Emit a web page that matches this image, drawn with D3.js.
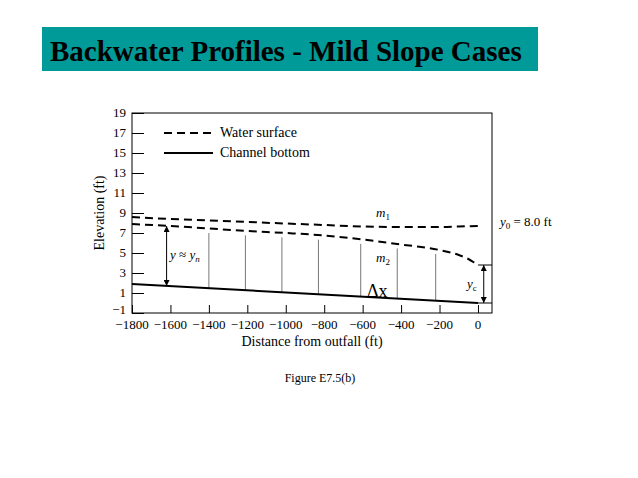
<!DOCTYPE html>
<html><head><meta charset="utf-8">
<script src="https://cdn.jsdelivr.net/npm/d3@7"></script>
<style>body{margin:0;background:#fff}</style></head>
<body><svg id="c" width="638" height="478"></svg>
<script>
const xTicks=[-1800,-1600,-1400,-1200,-1000,-800,-600,-400,-200,0];
const yTicks=[-1,1,3,5,7,9,11,13,15,17,19];
const bottomX=[-1800,0], bottomY=[1.9,0];
const m1X=[-1800,-1600,-1400,-1200,-1000,-800,-600,-400,-200,-100,0];
const m1Y=[8.6,8.4,8.25,8.1,7.95,7.8,7.65,7.6,7.6,7.65,7.7];
const m2X=[-1800,-1600,-1400,-1200,-1000,-800,-600,-400,-200,-100,-50,-20,0];
const m2Y=[7.9,7.7,7.45,7.2,7.0,6.75,6.35,5.85,5.3,4.8,4.4,4.05,3.8];
const stationX=[-1400,-1210,-1020,-830,-610,-420,-220];
const yc=3.8;

const svg=d3.select("#c"), F="Liberation Serif";
svg.append("rect").attr("x",42).attr("y",27).attr("width",496).attr("height",44).attr("fill","#009a98");
svg.append("text").attr("x",50).attr("y",61).attr("font-family",F).attr("font-weight","bold").attr("font-size",29).text("Backwater Profiles - Mild Slope Cases");

const x=d3.scaleLinear().domain([-1800,73]).range([132,492]);
const y=d3.scaleLinear().domain([-1,19]).range([313,113]);
const g=svg.append("g");
g.append("rect").attr("x",132).attr("y",113).attr("width",360).attr("height",200).attr("fill","none").attr("stroke","#000");
g.append("g").attr("transform","translate(132,0)").call(d3.axisRight(y).tickValues(yTicks).tickSize(12).tickFormat(""))
 .call(a=>a.select(".domain").remove());
g.append("g").attr("transform","translate(0,313)").call(d3.axisTop(x).tickValues(xTicks).tickSize(8).tickFormat(""))
 .call(a=>a.select(".domain").remove());
yTicks.forEach(v=>g.append("text").attr("x",126).attr("y",y(v)+(v<0?1:4)).attr("text-anchor","end").attr("font-family",F).attr("font-size",13).text(v<0?"\u2212"+(-v):v));
xTicks.forEach(v=>g.append("text").attr("x",x(v)).attr("y",329).attr("text-anchor","middle").attr("font-family",F).attr("font-size",13).text(v<0?"\u2212"+(-v):v));
g.append("text").attr("x",312).attr("y",346).attr("text-anchor","middle").attr("font-family",F).attr("font-size",14).text("Distance from outfall (ft)");
g.append("text").attr("transform","translate(104,213) rotate(-90)").attr("text-anchor","middle").attr("font-family",F).attr("font-size",14).text("Elevation (ft)");

const bInterp=d3.scaleLinear().domain(bottomX).range(bottomY);
const m2Interp=d3.scaleLinear().domain(m2X).range(m2Y);
stationX.forEach(s=>g.append("line").attr("x1",x(s)).attr("x2",x(s)).attr("y1",y(bInterp(s))).attr("y2",y(m2Interp(s)-0.45)).attr("stroke","#777").attr("stroke-width",1));

const line=d3.line().x(d=>x(d[0])).y(d=>y(d[1])).curve(d3.curveMonotoneX);
g.append("path").attr("d",line(bottomX.map((v,i)=>[v,bottomY[i]]))).attr("fill","none").attr("stroke","#000").attr("stroke-width",2);
g.append("path").attr("d",line(m1X.map((v,i)=>[v,m1Y[i]]))).attr("fill","none").attr("stroke","#000").attr("stroke-width",2).attr("stroke-dasharray","8,5");
g.append("path").attr("d",line(m2X.map((v,i)=>[v,m2Y[i]]))).attr("fill","none").attr("stroke","#000").attr("stroke-width",2).attr("stroke-dasharray","8,5");

const defs=svg.append("defs");
defs.append("marker").attr("id","ah").attr("viewBox","0 0 10 10").attr("refX",10).attr("refY",5).attr("markerWidth",6).attr("markerHeight",6).attr("orient","auto-start-reverse")
 .append("path").attr("d","M0,0L10,5L0,10z");
const arrow=(xx,y1,y2)=>g.append("line").attr("x1",x(xx)).attr("x2",x(xx)).attr("y1",y(y1)).attr("y2",y(y2)).attr("stroke","#000").attr("marker-start","url(#ah)").attr("marker-end","url(#ah)");
arrow(-1620,bInterp(-1620),7.7);
g.append("line").attr("x1",x(0)).attr("x2",x(73)).attr("y1",y(yc)).attr("y2",y(yc)).attr("stroke","#000");
g.append("line").attr("x1",x(0)).attr("x2",x(73)).attr("y1",y(0)).attr("y2",y(0)).attr("stroke","#000");
arrow(30,0,yc);

const it=(tx,ty,main,sub,size)=>{const t=g.append("text").attr("x",tx).attr("y",ty).attr("font-family",F).attr("font-size",size||13);
 t.append("tspan").attr("font-style","italic").text(main); if(sub) t.append("tspan").attr("font-size",9).attr("dy",3).text(sub); return t;};
it(376,217,"m","1");
it(376,262,"m","2");
it(467,288,"y","c");
const yn=g.append("text").attr("x",170).attr("y",259).attr("font-family",F).attr("font-size",13);
yn.append("tspan").attr("font-style","italic").text("y");yn.append("tspan").text(" \u2248 ");yn.append("tspan").attr("font-style","italic").text("y");yn.append("tspan").attr("font-style","italic").attr("font-size",9).attr("dy",3).text("n");
const y0=g.append("text").attr("x",500).attr("y",226).attr("font-family",F).attr("font-size",13);
y0.append("tspan").attr("font-style","italic").text("y");y0.append("tspan").attr("font-size",9).attr("dy",3).text("0");y0.append("tspan").attr("dy",-3).text(" = 8.0 ft");
g.append("text").attr("x",367).attr("y",297).attr("font-family",F).attr("font-size",18).text("\u0394x");

g.append("line").attr("x1",164).attr("x2",213).attr("y1",133).attr("y2",133).attr("stroke","#000").attr("stroke-width",2).attr("stroke-dasharray","8,5");
g.append("line").attr("x1",164).attr("x2",213).attr("y1",153).attr("y2",153).attr("stroke","#000").attr("stroke-width",2);
g.append("text").attr("x",220).attr("y",137).attr("font-family",F).attr("font-size",14).text("Water surface");
g.append("text").attr("x",220).attr("y",157).attr("font-family",F).attr("font-size",14).text("Channel bottom");
svg.append("text").attr("x",320).attr("y",382).attr("text-anchor","middle").attr("font-family",F).attr("font-size",12).text("Figure E7.5(b)");
</script></body></html>
